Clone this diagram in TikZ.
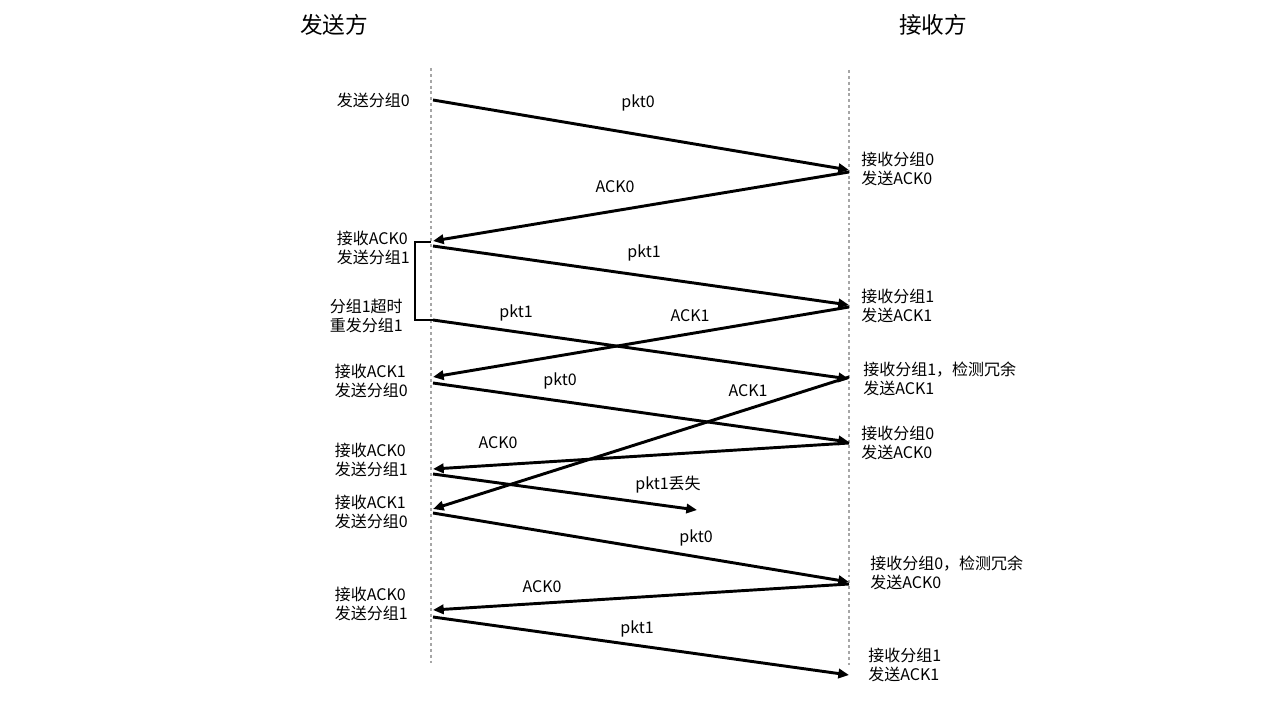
\documentclass[tikz,border=0pt]{standalone}
\usepackage{fontspec}
\setmainfont{Noto Sans CJK SC}
\usetikzlibrary{arrows.meta}
\begin{document}
\begin{tikzpicture}[x=0.75pt,y=-0.75pt,
  life/.style={draw=gray!70,line width=2.2pt,dash pattern=on 2.2pt off 2.2pt},
  msg/.style={draw=black,line width=2.2pt,-{Triangle[length=8pt,width=7pt]}},
  lbl/.style={font=\fontsize{12}{14}\selectfont,inner sep=0pt},
  ll/.style={lbl,anchor=east,align=left},
  rl/.style={lbl,anchor=west,align=left}]
\useasboundingbox (0,0) rectangle (1280,720);
\node[font=\fontsize{17}{20}\selectfont] (ts) at (334,25) {发送方};
\node[font=\fontsize{17}{20}\selectfont] (tr) at (933,25) {接收方};
\coordinate (lt) at (431,68); \coordinate (lb) at (431,665);
\coordinate (rt) at (849,70); \coordinate (rb) at (849,665);
\draw[life] (lt)--(lb); \draw[life] (rt)--(rb);
% endpoints
\foreach \n/\x/\y in {a1/433/100,b1/849/170,a2/849/172,b2/433/241,a3/433/246,b3/849/305,a4/849/307,b4/433/377,a5/433/320,b5/849/379,a6/849/377,b6/433/509,a7/433/383,b7/849/442,a8/849/443,b8/433/469,a9/433/474,b9/697/510,a10/433/513,b10/849/582,a11/849/584,b11/433/610,a12/433/617,b12/849/675}
  \coordinate (\n) at (\x,\y);
\draw[msg] (a1)--(b1); \draw[msg] (a2)--(b2); \draw[msg] (a3)--(b3);
\draw[msg] (a4)--(b4); \draw[msg] (a5)--(b5); \draw[msg] (a6)--(b6);
\draw[msg] (a7)--(b7); \draw[msg] (a8)--(b8); \draw[msg] (a9)--(b9);
\draw[msg] (a10)--(b10); \draw[msg] (a11)--(b11); \draw[msg] (a12)--(b12);
\coordinate (k1) at (431,242); \coordinate (k2) at (415,242);
\coordinate (k3) at (415,320); \coordinate (k4) at (433,320);
\draw[line width=1.2pt] (k1)--(k2)--(k3)--(k4);
% message labels
\node[lbl] (m1) at (638,103) {pkt0};
\node[lbl] (m2) at (615,187) {ACK0};
\node[lbl] (m3) at (644,253) {pkt1};
\node[lbl] (m4) at (690,316) {ACK1};
\node[lbl] (m5) at (516,313) {pkt1};
\node[lbl] (m6) at (748,391) {ACK1};
\node[lbl] (m7) at (560,381) {pkt0};
\node[lbl] (m8) at (498,443) {ACK0};
\node[lbl] (m9) at (668,485) {pkt1丢失};
\node[lbl] (m10) at (696,538) {pkt0};
\node[lbl] (m11) at (542,587) {ACK0};
\node[lbl] (m12) at (637,629) {pkt1};
% left labels
\node[ll] (s1) at (410,100) {发送分组0};
\node[ll] (s2) at (410,248) {接收ACK0\\发送分组1};
\node[ll] (s3) at (403,316) {分组1超时\\重发分组1};
\node[ll] (s4) at (408,381) {接收ACK1\\发送分组0};
\node[ll] (s5) at (408,460) {接收ACK0\\发送分组1};
\node[ll] (s6) at (408,512) {接收ACK1\\发送分组0};
\node[ll] (s7) at (408,604) {接收ACK0\\发送分组1};
% right labels
\node[rl] (r1) at (861,169) {接收分组0\\发送ACK0};
\node[rl] (r2) at (861,306) {接收分组1\\发送ACK1};
\node[rl] (r3) at (863,379) {接收分组1，检测冗余\\发送ACK1};
\node[rl] (r4) at (861,443) {接收分组0\\发送ACK0};
\node[rl] (r5) at (870,573) {接收分组0，检测冗余\\发送ACK0};
\node[rl] (r6) at (868,665) {接收分组1\\发送ACK1};
\end{tikzpicture}
\end{document}
